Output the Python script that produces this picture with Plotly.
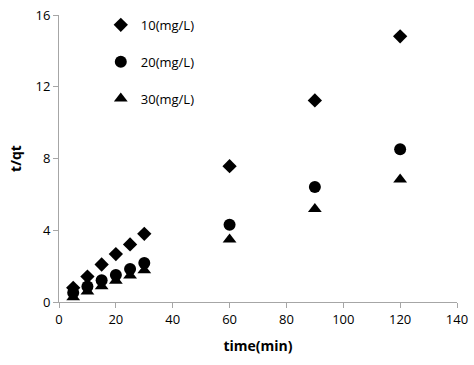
import plotly.graph_objects as go

time_min = [5, 10, 15, 20, 25, 30, 60, 90, 120]
series_names = ["10(mg/L)", "20(mg/L)", "30(mg/L)"]
t_qt_10 = [0.79, 1.42, 2.09, 2.67, 3.21, 3.80, 7.57, 11.24, 14.81]
t_qt_20 = [0.52, 0.86, 1.21, 1.50, 1.84, 2.18, 4.31, 6.41, 8.52]
t_qt_30 = [0.27, 0.58, 0.88, 1.19, 1.48, 1.77, 3.48, 5.19, 6.83]
x_ticks = [0, 20, 40, 60, 80, 100, 120, 140]
y_ticks = [0, 4, 8, 12, 16]

symbols = ["diamond", "circle", "triangle-up"]
sizes = [11, 12, 12]
fig = go.Figure()
for i, (name, ys) in enumerate(zip(series_names, [t_qt_10, t_qt_20, t_qt_30])):
    fig.add_trace(go.Scatter(
        x=time_min, y=ys, mode="markers", name=name, legendgroup=name,
        marker=dict(symbol=symbols[i], size=sizes[i], color="black"),
    ))

font = "Open Sans, Lato, sans-serif"
fig.update_layout(
    width=474, height=365,
    margin=dict(l=59, r=17, t=6, b=63),
    plot_bgcolor="white", paper_bgcolor="white",
    font=dict(family=font, size=13, color="black"),
    showlegend=True,
    legend=dict(x=0.105, y=1.018, xanchor="left", yanchor="top",
                bgcolor="rgba(0,0,0,0)", tracegroupgap=17,
                itemwidth=30, font=dict(size=13)),
    xaxis=dict(range=[0, 140], tickvals=x_ticks, showgrid=False, zeroline=False,
               showline=True, linecolor="#a6a6a6", linewidth=1,
               ticks="outside", ticklen=5, tickcolor="#a6a6a6",
               ticklabeloverflow="allow",
               title=dict(text="<b>time(min)</b>", standoff=14, font=dict(size=14))),
    yaxis=dict(range=[0, 16], tickvals=y_ticks, showgrid=False, zeroline=False,
               showline=True, linecolor="#a6a6a6", linewidth=1,
               ticks="outside", ticklen=5, tickcolor="#a6a6a6",
               ticklabeloverflow="allow",
               title=dict(text="<b>t/qt</b>", standoff=10, font=dict(size=14))),
)
fig.write_html("out.html", config={"displayModeBar": False},
               post_script="document.body.style.margin='0';")
